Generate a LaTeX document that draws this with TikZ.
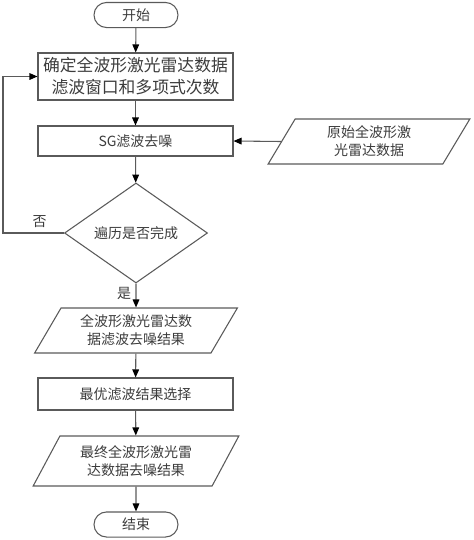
\documentclass[tikz,border=0pt]{standalone}
\usepackage{fontspec}
\newfontfamily\cjk{Noto Sans CJK SC}
\usetikzlibrary{arrows.meta, shapes.geometric}
\definecolor{flowline}{HTML}{5A5A5A}
\definecolor{flowtext}{HTML}{3C3C3C}
\tikzset{
  TERM/.style={
    rectangle, rounded corners=9.4pt,
    draw=flowline, text=flowtext,
    font=\cjk\fontsize{10.5}{13.5}\selectfont, align=center,
    minimum width=63pt, minimum height=18.8pt,
    line width=0.8pt
  },
  PROC/.style={rectangle, draw=flowline, text=flowtext,
    font=\cjk\fontsize{10.5}{13.5}\selectfont, align=center,
    minimum width=146.25pt, minimum height=#1, line width=0.8pt},
  DATA/.style args={#1/#2/#3}{trapezium, trapezium left angle=#1, trapezium right angle=180-#1,
    trapezium stretches=true, draw=flowline, text=flowtext,
    font=\cjk\fontsize{10.5}{13.5}\selectfont, align=center,
    minimum width=#2, minimum height=#3, line width=0.8pt},
  DEC/.style={diamond, draw=flowline, text=flowtext,
    font=\cjk\fontsize{10.5}{13.5}\selectfont, align=center,
    minimum width=107.25pt, minimum height=75pt, inner sep=0pt, line width=0.8pt},
  FARR/.style={-{Triangle[length=6pt,width=5pt,color=black]}, line width=0.8pt, draw=flowline},
  FLBL/.style={text=flowtext, font=\cjk\fontsize{10.5}{13.5}\selectfont},
}
\begin{document}
\begin{tikzpicture}[x=0.75pt, y=-0.75pt]
  \useasboundingbox (0,0) rectangle (474,540);
  \node[TERM] (start) at (136,15) {开始};
  \node[PROC=35.25pt, font=\cjk\fontsize{12.6}{16.5}\selectfont] (window) at (135.5,76.5) {确定全波形激光雷达数据\\滤波窗口和多项式次数};
  \node[PROC=22.5pt] (sg) at (135.5,141) {SG滤波去噪};
  \node[DATA=67/151.5pt/33.75pt] (raw) at (369,141.5) {原始全波形激\\光雷达数据};
  \node[DEC] (done) at (136,233) {遍历是否完成};
  \node[DATA=62/152.25pt/33.75pt] (res) at (136,330.5) {全波形激光雷达数\\据滤波去噪结果};
  \node[PROC=24pt] (best) at (135.5,394) {最优滤波结果选择};
  \node[DATA=62/154.5pt/37.5pt] (final) at (136,461) {最终全波形激光雷\\达数据去噪结果};
  \node[TERM] (stop) at (136,524.5) {结束};
  \coordinate (loop) at (3,233);
  \draw[FARR] (start) -- (window);
  \draw[FARR] (window) -- (sg);
  \draw[FARR] (raw.west) -- (sg.east);
  \draw[FARR] (sg) -- (done);
  \draw[FARR] (done.south) -- node[FLBL, left, pos=0.4]{是} (res.north);
  \draw[FARR] (done.west) -- node[FLBL, above, pos=0.4]{否} (loop) |- (window.west);
  \draw[FARR] (res) -- (best);
  \draw[FARR] (best) -- (final);
  \draw[FARR] (final) -- (stop);
\end{tikzpicture}
\end{document}
